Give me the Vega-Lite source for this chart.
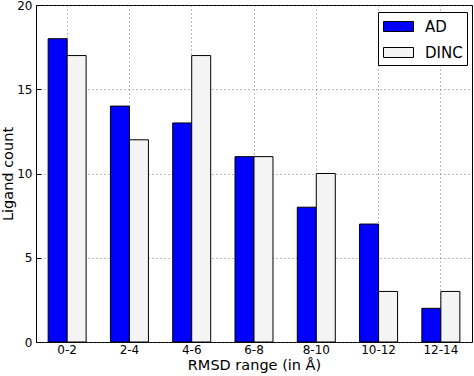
{
  "$schema": "https://vega.github.io/schema/vega-lite/v6.json",
  "autosize": "none",
  "width": 436,
  "height": 337,
  "padding": {"left": 36, "top": 5, "right": 2, "bottom": 34},
  "background": "white",
  "config": {
    "font": "DejaVu Sans",
    "view": {"stroke": "black", "strokeWidth": 1},
    "axis": {"labelFont": "DejaVu Sans", "titleFont": "DejaVu Sans", "labelColor": "black", "titleColor": "black", "domain": false, "tickColor": "black", "gridColor": "#555", "gridDash": [1, 3], "gridWidth": 0.8, "titleFontWeight": "normal"}
  },
  "data": {"values": [
    {"range": "0-2", "method": "AD", "count": 18},
    {"range": "0-2", "method": "DINC", "count": 17},
    {"range": "2-4", "method": "AD", "count": 14},
    {"range": "2-4", "method": "DINC", "count": 12},
    {"range": "4-6", "method": "AD", "count": 13},
    {"range": "4-6", "method": "DINC", "count": 17},
    {"range": "6-8", "method": "AD", "count": 11},
    {"range": "6-8", "method": "DINC", "count": 11},
    {"range": "8-10", "method": "AD", "count": 8},
    {"range": "8-10", "method": "DINC", "count": 10},
    {"range": "10-12", "method": "AD", "count": 7},
    {"range": "10-12", "method": "DINC", "count": 3},
    {"range": "12-14", "method": "AD", "count": 2},
    {"range": "12-14", "method": "DINC", "count": 3}
  ]},
  "mark": {"type": "bar", "stroke": "black", "strokeWidth": 1},
  "encoding": {
    "x": {
      "field": "range", "type": "nominal", "sort": null,
      "scale": {"paddingInner": 0.39, "paddingOuter": 0.195},
      "axis": {"title": "RMSD range (in Å)", "labelAngle": 0, "labelFontSize": 12, "titleFontSize": 14.5, "grid": true, "bandPosition": 0.5, "tickSize": -5, "labelPadding": 7, "titlePadding": 3}
    },
    "xOffset": {"field": "method", "type": "nominal"},
    "y": {
      "field": "count", "type": "quantitative",
      "scale": {"domain": [0, 20]},
      "axis": {"title": "Ligand count", "values": [0, 5, 10, 15, 20], "labelFontSize": 12, "titleFontSize": 14.5, "grid": true, "tickSize": -5, "labelPadding": 9, "titlePadding": 1}
    },
    "fill": {
      "field": "method", "type": "nominal",
      "scale": {"domain": ["AD", "DINC"], "range": ["#0000ff", "#f4f4f4"]},
      "legend": {
        "title": null, "orient": "none", "legendX": 342, "legendY": 7,
        "labelFontSize": 15, "labelFont": "DejaVu Sans", "labelColor": "black",
        "symbolType": "M-1.5,-0.5H1.5V0.5H-1.5Z", "symbolSize": 400, "symbolStrokeColor": "black", "symbolStrokeWidth": 1,
        "symbolOffset": 6,
        "rowPadding": 7, "labelOffset": 16,
        "strokeColor": "black", "fillColor": "white", "padding": 4,
        "symbolOpacity": 1
      }
    }
  }
}
